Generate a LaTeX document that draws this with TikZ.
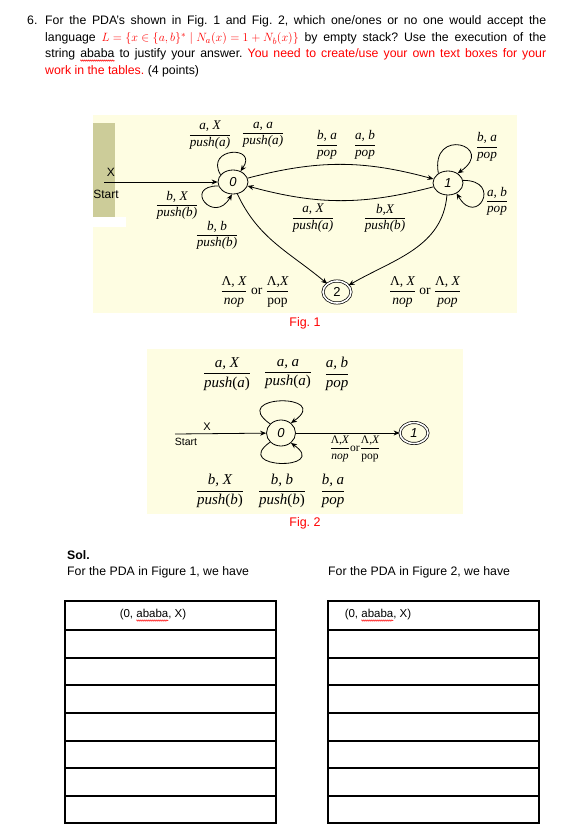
\documentclass[tikz,border=0pt]{standalone}
\usepackage{fontspec}
\setmainfont{Liberation Sans}
\newfontfamily\timesfont{Liberation Serif}
\usetikzlibrary{arrows.meta,shapes.geometric,decorations.pathmorphing}
\definecolor{pdaYellow}{RGB}{254,253,226}
\definecolor{pdaOlive}{RGB}{204,204,153}
\definecolor{pdaRed}{RGB}{255,0,0}
\newsavebox\pdabox
\newcommand{\spellerr}[1]{\sbox\pdabox{#1}\tikz[overlay]\draw[pdaRed, line width=0.5pt, decorate, decoration={zigzag, amplitude=0.7pt, segment length=2pt}] (0pt,-2.6pt) -- (\wd\pdabox,-2.6pt);\usebox\pdabox}
\newcommand{\tfr}[2]{$\displaystyle\frac{\mbox{#1}}{\mbox{#2}}$}
\frenchspacing

\begin{document}
\begin{tikzpicture}[x=1pt, y=1pt,
  font=\fontsize{12.3}{16.7}\selectfont,
  txt/.style={anchor=base west, inner sep=0pt},
  state/.style={draw, ellipse, line width=0.8pt, minimum width=30pt, minimum height=24pt, inner sep=0pt, font=\fontsize{13}{13}\selectfont\itshape},
  accept/.style={state, double, line width=0.7pt, double distance=1.6pt, minimum width=28pt, minimum height=22pt},
  lbl/.style={inner sep=0pt, font=\timesfont\itshape\fontsize{13.2}{15}\selectfont},
  biglbl/.style={lbl, font=\timesfont\itshape\fontsize{15}{17}\selectfont},
  arr/.style={-{Stealth[length=6pt,width=5pt]}, line width=0.8pt},
  figcap/.style={inner sep=0pt, text=pdaRed, font=\fontsize{12.5}{14}\selectfont},
  tbl/.style={line width=1.6pt},
]
\useasboundingbox (0,0) rectangle (567,-832);
% question
\node[txt] (qnum) at (27,-25) {6.};
\node[txt] (qline1) at (45,-25) {\makebox[501pt][s]{For the PDA’s shown in Fig. 1 and Fig. 2, which one/ones or no one would accept the}};
\node[txt] (qline2) at (45,-42) {\makebox[501pt][s]{language \textcolor{pdaRed}{\fontsize{13}{16.7}\selectfont\mbox{$L=\{x\in\{a,b\}^{*}\mid N_a(x)=1+N_b(x)\}$}} by empty stack? Use the execution of the}};
\node[txt] (qline3) at (45,-58) {\makebox[501pt][s]{string \spellerr{ababa} to justify your answer. \textcolor{pdaRed}{You need to create/use your own text boxes for your}}};
\node[txt] (qline4) at (45,-75) {\textcolor{pdaRed}{work in the tables.} (4 points)};

% fig 1
\fill[pdaYellow] (93,-115) rectangle (517,-313);
\fill[pdaOlive] (93,-123) rectangle (115,-217);
\fill[white] (93,-217) rectangle (126,-227);
\node[state] (a0) at (233,-182) {0};
\node[state] (a1) at (448,-183) {1};
\node[accept, font=\fontsize{13}{13}\selectfont] (a2) at (337,-292) {2};
\coordinate (a-in) at (104,-182);
\node[font=\fontsize{12}{12}\selectfont] (a-x) at (111,-172) {X};
\node[font=\fontsize{12}{12}\selectfont] (a-start) at (106,-194) {Start};
\draw[arr] (a-in) -- (a0);
\draw[arr] (a0.150) to[out=120, in=55, distance=32pt] (a0.55);
\draw[arr] (a0.195) to[out=180, in=-120, distance=36pt] (a0.265);
\draw[arr] (a0) to[bend left=15] (a1);
\draw[arr] (a1) to[bend left=15] (a0);
\draw[arr] (a1.135) to[out=100, in=35, distance=48pt] (a1.45);
\draw[arr] (a1.10) to[out=0, in=-60, distance=40pt] (a1.-50);
\draw[arr] (a1.265) to[out=-95, in=30] (a2);
\draw[arr] (a0.290) to[out=-65, in=140] (a2);
\node[lbl] (a-ax) at (210,-135) {\tfr{a, X}{push(a)}};
\node[lbl] (a-aa) at (263,-135) {\tfr{a, a}{push(a)}};
\node[lbl] (a-bx) at (177,-205) {\tfr{b, X}{push(b)}};
\node[lbl] (a-bb) at (217,-235) {\tfr{b, b}{push(b)}};
\node[lbl] (a-ba) at (327,-145) {\tfr{b, a}{pop}};
\node[lbl] (a-ab) at (365,-145) {\tfr{a, b}{pop}};
\node[lbl] (a-ax2) at (313,-218) {\tfr{a, X}{push(a)}};
\node[lbl] (a-bx2) at (385,-218) {\tfr{b,X}{push(b)}};
\node[lbl] (a-ba1) at (487,-147) {\tfr{b, a}{pop}};
\node[lbl] (a-ab1) at (497,-201) {\tfr{a, b}{pop}};
\node[lbl, font=\timesfont\itshape\fontsize{13.5}{15}\selectfont] (a-lam0) at (255,-292)
  {\tfr{\textup{Λ}, X}{nop} \textup{or} \tfr{\textup{Λ},X}{\textup{pop}}};
\node[lbl, font=\timesfont\itshape\fontsize{13.5}{15}\selectfont] (a-lam1) at (425,-292)
  {\tfr{\textup{Λ}, X}{nop} \textup{or} \tfr{\textup{Λ}, X}{pop}};
\node[figcap] (fig1) at (305,-323) {Fig. 1};

% fig 2
\fill[pdaYellow] (147,-349) rectangle (463,-514);
\node[state, minimum width=29pt, minimum height=26pt] (b0) at (281,-433) {0};
\node[accept, minimum width=28pt, minimum height=21pt] (b1) at (414,-433) {1};
\coordinate (b-in) at (175,-434);
\node[font=\fontsize{11}{11}\selectfont] (b-x) at (207,-427) {X};
\node[font=\fontsize{10.5}{11}\selectfont] (b-start) at (186,-442) {Start};
\draw[arr] (b-in) -- (b0);
\draw[arr] (b0.140) to[out=145, in=35, distance=52pt] (b0.45);
\draw[arr] (b0.220) to[out=-145, in=-35, distance=48pt] (b0.-45);
\draw[arr] (b0) -- (b1);
\node[biglbl] (b-ax) at (227,-374) {\tfr{a, X}{push\textup{(}a\textup{)}}};
\node[biglbl] (b-aa) at (288,-374) {\tfr{a, a}{push\textup{(}a\textup{)}}};
\node[biglbl] (b-ab) at (337,-374) {\tfr{a, b}{pop}};
\node[biglbl] (b-bx) at (220,-491) {\tfr{b, X}{push\textup{(}b\textup{)}}};
\node[biglbl] (b-bb) at (282,-491) {\tfr{b, b}{push\textup{(}b\textup{)}}};
\node[biglbl] (b-ba) at (333,-491) {\tfr{b, a}{pop}};
\node[lbl, font=\timesfont\itshape\fontsize{11.5}{12}\selectfont] (b-lam) at (355,-449)
  {\tfr{\textup{Λ},X}{nop}\textup{or}\tfr{\textup{Λ},X}{\textup{pop}}};
\node[figcap] (fig2) at (305,-523) {Fig. 2};

% solution tables
\node[txt, font=\bfseries\fontsize{12.3}{14}\selectfont] (sol) at (67,-559) {Sol.};
\node[txt] (sol1) at (67,-575) {For the PDA in Figure 1, we have};
\node[txt] (sol2) at (328,-575) {For the PDA in Figure 2, we have};
\draw[tbl] (65,-601) rectangle (276,-823);
\draw[tbl] (328,-601) rectangle (539,-823);
\foreach \y in {630,658,685,713,741,768,796} {
  \draw[tbl] (65,-\y) -- (276,-\y);
  \draw[tbl] (328,-\y) -- (539,-\y);
}
\node[font=\fontsize{11.5}{12}\selectfont] (cfg1) at (153,-615) {(0, \spellerr{ababa}, X)};
\node[font=\fontsize{11.5}{12}\selectfont] (cfg2) at (378,-615) {(0, \spellerr{ababa}, X)};
\end{tikzpicture}
\end{document}
